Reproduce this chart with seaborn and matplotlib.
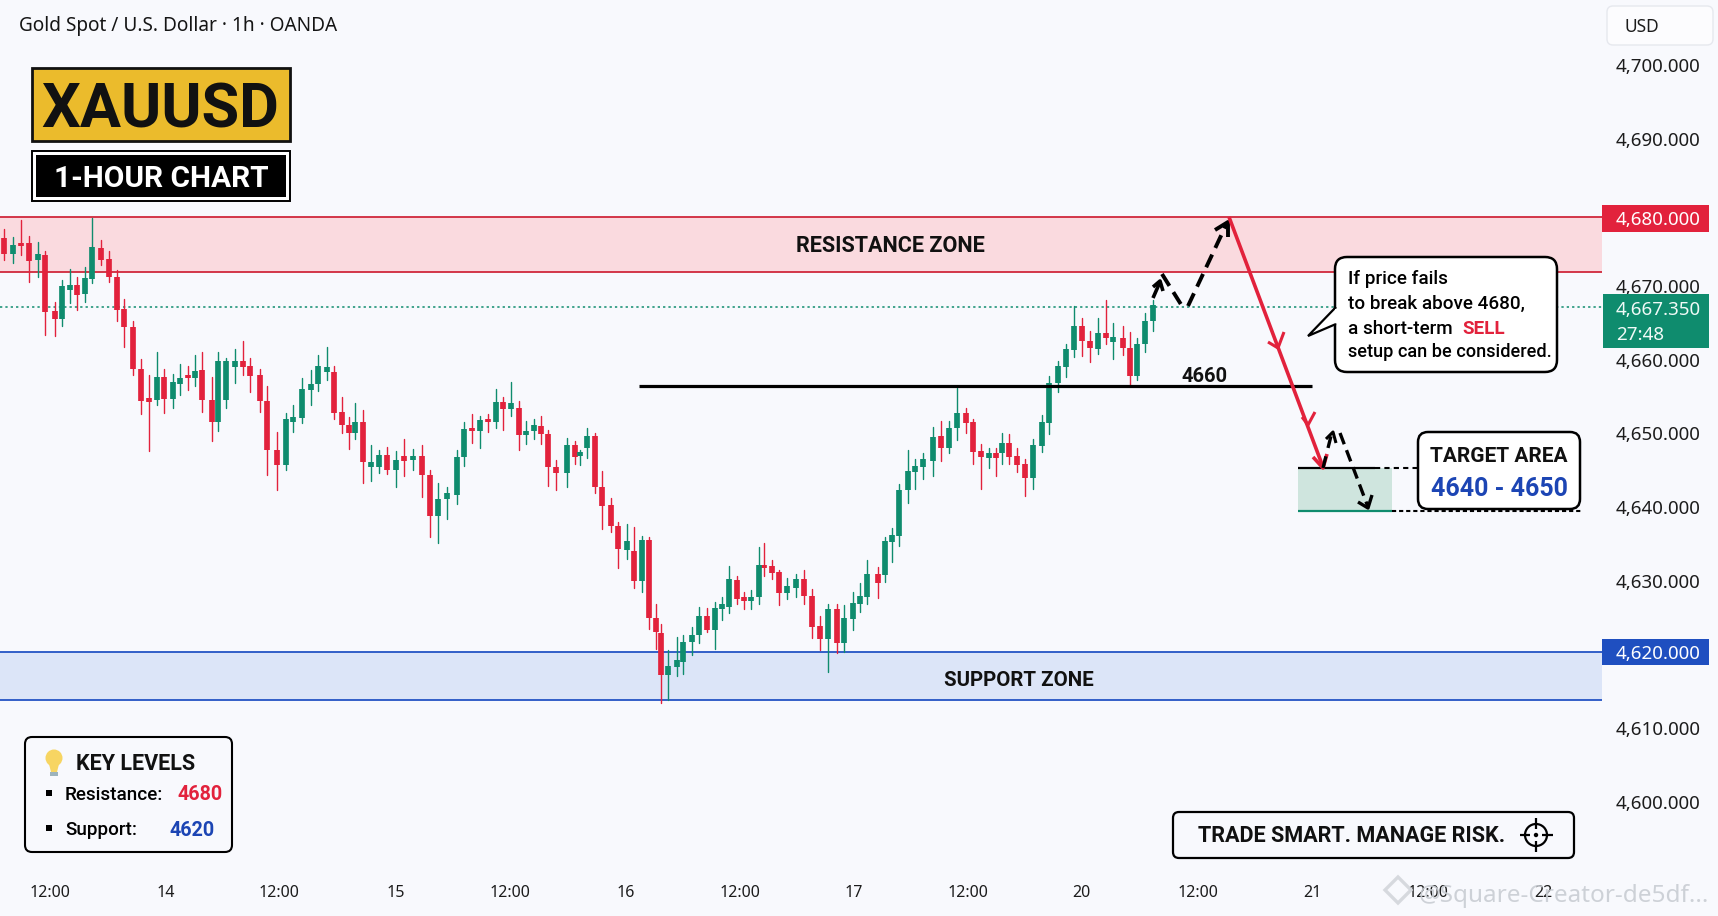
import numpy as np
import pandas as pd
import seaborn as sns
import matplotlib
matplotlib.use('Agg')
import matplotlib.pyplot as plt
from matplotlib.patches import FancyBboxPatch, Rectangle, Polygon, Circle

# time of each 1h bar on the chart axis, hours from left edge
bar_hours = [0.42, 1.36, 2.23, 3.07, 4.01, 4.74, 5.76, 6.46, 7.30, 8.09, 8.87, 9.66, 10.54, 11.38, 12.22,
             13.02, 13.90, 14.80, 15.60, 16.44, 17.20, 18.15, 18.88, 19.65, 20.45, 21.18, 22.17, 22.86, 23.66, 24.64,
             25.41, 26.21, 27.22, 27.99, 28.97, 29.95, 30.71, 31.65, 32.56, 33.33, 34.21, 35.00, 35.84, 36.51, 37.20,
             38.04, 38.88, 39.65, 40.55, 41.43, 42.33, 43.21, 44.19, 45.03, 45.90,
             46.84, 47.88, 48.59, 49.45, 50.26, 51.07, 51.94, 52.70, 53.48, 54.31, 55.08, 55.88, 56.65, 57.41, 58.22,
             59.34, 60.21, 60.73, 61.43, 62.33, 63.07, 64.01, 64.71, 65.62, 66.39, 67.19, 67.99, 68.69, 69.21, 69.95,
             70.86, 71.55, 72.43, 73.16, 74.03, 74.87, 75.60, 76.33, 77.17, 77.94, 78.67, 79.47, 80.03, 80.87, 81.60,
             82.44, 83.35, 84.22, 84.99, 85.89, 86.73, 87.64, 88.41, 89.29, 90.08, 90.82,
             91.90, 92.70, 93.37, 94.13, 95.11, 95.84, 96.68, 97.73, 98.53, 99.40, 100.21, 101.12, 101.91, 102.72,
             103.53, 104.26, 104.89, 105.68, 106.46, 107.30, 108.13, 109.08, 109.87, 110.82, 111.62, 112.46, 113.26,
             114.14, 114.94, 115.81, 116.57, 117.56, 118.32, 119.09, 119.92, 120.70]

body_top = [4676.5, 4675.6, 4675.9, 4675.9, 4674.3, 4674.2, 4666.6, 4670.0, 4670.2, 4670.1, 4671.1, 4675.3, 4675.2, 4673.7, 4671.2,
            4666.9, 4664.5, 4658.8, 4654.8, 4657.7, 4657.7, 4657.0, 4657.5, 4657.9, 4658.5, 4658.6, 4654.6, 4659.9, 4659.8, 4659.9,
            4659.9, 4659.1, 4657.9, 4654.4, 4647.8, 4651.9, 4652.2, 4656.0, 4656.7, 4659.1, 4659.0, 4658.4, 4652.9, 4651.2, 4651.5,
            4651.5, 4646.2, 4647.1, 4647.1, 4646.4, 4647.0, 4647.0, 4646.9, 4644.4, 4641.1,
            4641.9, 4646.8, 4650.6, 4650.8, 4651.8, 4651.9, 4654.3, 4654.3, 4654.2, 4653.4, 4650.3, 4651.1, 4651.0, 4649.9, 4645.5,
            4648.4, 4648.4, 4647.5, 4649.7, 4649.7, 4642.7, 4640.3, 4637.5, 4635.4, 4634.1, 4635.5, 4635.5, 4625.0, 4622.9, 4618.5,
            4619.3, 4621.7, 4622.6, 4625.2, 4625.2, 4626.3, 4626.8, 4630.2, 4630.1, 4627.8, 4627.8, 4632.1, 4632.2, 4632.0, 4631.2,
            4629.3, 4630.2, 4630.2, 4628.0, 4623.9, 4626.2, 4626.2, 4625.0, 4627.0, 4627.9, 4631.0,
            4631.0, 4635.4, 4636.2, 4642.4, 4644.9, 4645.6, 4646.5, 4649.5, 4649.6, 4650.8, 4652.8, 4652.8, 4651.5, 4647.6,
            4647.4, 4647.3, 4648.7, 4648.7, 4646.9, 4645.8, 4648.5, 4651.5, 4656.9, 4659.1, 4661.4, 4664.6, 4664.6,
            4662.6, 4663.7, 4663.7, 4663.1, 4662.9, 4661.6, 4662.2, 4665.2, 4667.4]
body_bottom = [4674.3, 4674.3, 4675.4, 4673.4, 4673.6, 4666.5, 4665.5, 4665.5, 4669.5, 4668.8, 4668.9, 4671.0, 4673.6, 4671.2, 4666.7,
               4664.5, 4658.8, 4654.4, 4654.3, 4654.6, 4654.7, 4654.7, 4656.7, 4657.5, 4657.5, 4654.6, 4651.5, 4651.5, 4654.6, 4659.0,
               4659.0, 4657.8, 4654.4, 4647.7, 4645.7, 4645.7, 4651.6, 4652.1, 4655.9, 4656.7, 4658.4, 4652.8, 4651.1, 4650.1, 4650.1,
               4646.1, 4645.4, 4645.5, 4645.1, 4645.1, 4646.3, 4646.4, 4644.4, 4638.8, 4638.8,
               4641.1, 4641.7, 4646.8, 4650.4, 4650.4, 4651.5, 4651.6, 4653.3, 4653.3, 4649.8, 4649.8, 4650.4, 4649.9, 4645.4, 4644.6,
               4644.7, 4646.8, 4646.9, 4648.1, 4642.7, 4640.1, 4637.4, 4634.3, 4634.2, 4630.0, 4630.0, 4625.0, 4623.0, 4617.2, 4617.2,
               4618.3, 4619.0, 4621.7, 4622.6, 4623.3, 4623.3, 4626.2, 4626.5, 4627.6, 4627.3, 4627.3, 4627.8, 4631.7, 4631.1, 4628.3,
               4628.3, 4629.1, 4628.0, 4623.8, 4622.1, 4622.1, 4621.6, 4621.6, 4624.8, 4626.9, 4627.8,
               4629.7, 4630.8, 4635.3, 4636.1, 4642.3, 4644.8, 4645.5, 4646.3, 4648.1, 4648.1, 4650.8, 4651.4, 4647.5, 4646.8,
               4646.7, 4646.7, 4647.3, 4646.8, 4645.7, 4643.9, 4643.9, 4648.3, 4651.4, 4656.8, 4659.0, 4661.3, 4662.5,
               4661.6, 4661.5, 4662.9, 4662.4, 4661.6, 4657.8, 4657.8, 4662.2, 4665.2]
highs = [4677.8, 4676.6, 4679.0, 4676.8, 4676.0, 4674.8, 4667.9, 4670.8, 4672.3, 4671.2, 4672.6, 4679.2, 4676.2, 4674.8, 4672.2,
         4668.2, 4665.3, 4660.1, 4658.0, 4661.1, 4658.8, 4658.1, 4659.4, 4659.2, 4660.6, 4661.1, 4657.7, 4661.1, 4660.3, 4661.4,
         4662.5, 4660.2, 4658.7, 4656.4, 4650.2, 4652.8, 4653.8, 4657.5, 4658.6, 4660.6, 4661.8, 4659.2, 4654.9, 4652.2, 4654.1,
         4653.2, 4648.5, 4647.8, 4648.2, 4647.6, 4649.2, 4647.9, 4648.5, 4645.1, 4643.3,
         4642.7, 4647.8, 4651.6, 4652.6, 4652.4, 4652.6, 4656.0, 4654.9, 4657.0, 4654.4, 4651.7, 4652.0, 4652.4, 4650.5, 4646.4,
         4649.4, 4649.0, 4647.7, 4650.7, 4650.0, 4644.9, 4641.2, 4638.0, 4637.7, 4637.3, 4636.1, 4636.0, 4626.8, 4624.1, 4620.6,
         4622.4, 4622.7, 4623.8, 4626.4, 4626.3, 4627.1, 4627.8, 4632.0, 4630.6, 4628.5, 4628.8, 4634.6, 4635.2, 4632.8, 4631.5,
         4630.4, 4631.0, 4631.5, 4628.9, 4625.3, 4626.9, 4626.8, 4626.7, 4628.5, 4629.7, 4632.9,
         4631.9, 4635.9, 4637.2, 4643.1, 4647.8, 4646.6, 4647.3, 4650.9, 4651.7, 4651.7, 4656.2, 4653.4, 4652.0, 4648.6,
         4648.0, 4648.0, 4650.1, 4649.9, 4648.1, 4646.5, 4649.3, 4652.5, 4657.8, 4659.9, 4662.2, 4667.3, 4665.7,
         4663.9, 4665.7, 4668.1, 4665.0, 4664.6, 4663.8, 4663.0, 4666.3, 4668.1]
lows = [4673.6, 4673.1, 4674.2, 4670.5, 4671.2, 4663.4, 4663.2, 4664.6, 4667.7, 4666.8, 4667.8, 4670.4, 4672.9, 4670.5, 4665.3,
        4661.8, 4658.0, 4652.7, 4647.6, 4653.8, 4652.8, 4653.4, 4655.2, 4655.9, 4656.4, 4652.9, 4649.0, 4650.3, 4653.4, 4656.9,
        4658.0, 4655.6, 4652.9, 4644.4, 4642.4, 4645.1, 4650.2, 4651.4, 4653.9, 4655.7, 4657.2, 4651.9, 4650.1, 4647.9, 4649.3,
        4643.3, 4643.6, 4644.7, 4644.5, 4642.8, 4644.3, 4645.1, 4641.4, 4636.0, 4635.1,
        4638.4, 4640.5, 4645.6, 4648.7, 4648.0, 4650.2, 4650.8, 4650.5, 4652.4, 4647.7, 4648.6, 4649.2, 4648.6, 4642.9, 4642.3,
        4642.8, 4645.9, 4645.7, 4646.7, 4641.9, 4637.0, 4636.6, 4631.8, 4633.0, 4629.1, 4628.5, 4623.5, 4620.8, 4613.4, 4613.9,
        4617.1, 4617.4, 4619.9, 4621.6, 4623.1, 4620.8, 4624.7, 4625.7, 4626.9, 4626.2, 4626.2, 4626.8, 4630.6, 4630.3, 4626.7,
        4627.5, 4627.8, 4626.9, 4622.3, 4620.6, 4617.7, 4620.2, 4620.3, 4623.4, 4625.8, 4626.9,
        4627.7, 4629.8, 4632.6, 4634.8, 4640.6, 4642.5, 4643.8, 4644.3, 4646.3, 4647.4, 4649.1, 4650.1, 4645.9, 4642.5,
        4645.3, 4644.3, 4645.8, 4645.8, 4644.8, 4641.5, 4642.5, 4647.5, 4649.9, 4655.6, 4657.7, 4660.4, 4660.5,
        4659.7, 4660.8, 4662.2, 4660.1, 4660.6, 4656.4, 4657.2, 4661.1, 4663.9]
# 1 = green candle, 0 = red candle
is_up = [0, 1, 0, 0, 1, 0, 0, 1, 1, 0, 1, 1, 0, 0, 0,
         0, 0, 0, 0, 1, 0, 1, 1, 0, 1, 0, 0, 1, 1, 1,
         0, 0, 0, 0, 0, 1, 1, 1, 1, 1, 1, 0, 0, 0, 1,
         0, 1, 1, 0, 1, 0, 1, 0, 0, 1,
         1, 1, 1, 0, 1, 0, 1, 0, 1, 0, 1, 1, 0, 0, 0,
         1, 0, 1, 1, 0, 0, 0, 0, 1, 0, 1, 0, 0, 0, 1,
         1, 1, 1, 1, 0, 1, 1, 1, 0, 0, 1, 1, 0, 0, 0,
         1, 1, 0, 0, 0, 1, 0, 1, 1, 1, 1,
         0, 1, 1, 1, 1, 1, 1, 1, 0, 1, 1, 0, 0, 0,
         1, 0, 1, 0, 0, 0, 1, 1, 1, 1, 1, 1, 0,
         0, 1, 0, 1, 0, 0, 1, 1, 1]

y_ticks = [4600, 4610, 4620, 4630, 4640, 4650, 4660, 4670, 4680, 4690, 4700]
x_tick_hours = [5.24, 17.33, 29.26, 41.41, 53.35, 65.51, 77.44, 89.38, 101.31, 113.19, 125.40, 137.44, 149.53, 161.57]
x_tick_labels = ['12:00', '14', '12:00', '15', '12:00', '16', '12:00', '17', '12:00', '20', '12:00', '21', '12:00', '22']

resistance_zone = (4671.9, 4679.4)
support_zone = (4613.8, 4620.4)
target_zone = (4639.5, 4645.3)
level_4660 = 4656.4
last_price = 4667.2

RED = '#E2223C'
GREEN = '#0F8C6E'
BLUE = '#1C45B4'
BG = '#F8F9FD'
ROB = ['Roboto', 'DejaVu Sans']
MAIN = ['Noto Sans', 'DejaVu Sans']

sns.set_theme(style='white')
plt.rcParams['font.family'] = MAIN

df = pd.DataFrame({'t': bar_hours, 'top': body_top, 'bottom': body_bottom,
                   'high': highs, 'low': lows, 'up': is_up})
df['bar'] = df.index
df['side'] = np.where(df['up'] == 1, 'up', 'down')
pal = {'up': GREEN, 'down': RED}
wicks = df.melt(id_vars=['bar', 't', 'side'], value_vars=['high', 'low'], value_name='price')
bodies = df.melt(id_vars=['bar', 't', 'side'], value_vars=['top', 'bottom'], value_name='price')

W, H = 1718, 916
fig = plt.figure(figsize=(W / 100, H / 100), dpi=100, facecolor=BG)
ax = fig.add_axes([0, (H - 870) / H, 1602 / W, 870 / H], facecolor=BG)

# zones go under the candles
ax.axhspan(*resistance_zone, color='#FADADF', lw=0, zorder=0)
ax.axhspan(*support_zone, color='#DCE5F8', lw=0, zorder=0)
for v in resistance_zone:
    ax.axhline(v, color='#D0283C', lw=1.3, zorder=1)
for v in support_zone:
    ax.axhline(v, color='#2453C4', lw=1.3, zorder=1)
ax.axhline(last_price, color=GREEN, lw=1.1, ls=(0, (1.5, 2)), zorder=1)

sns.lineplot(data=wicks, x='t', y='price', units='bar', estimator=None, hue='side', palette=pal,
             lw=1.0, sort=False, legend=False, ax=ax, zorder=2)
sns.lineplot(data=bodies, x='t', y='price', units='bar', estimator=None, hue='side', palette=pal,
             lw=4.1, sort=False, legend=False, ax=ax, zorder=3, solid_capstyle='butt')

ax.hlines(level_4660, 66.9, 137.4, color='black', lw=2.3, zorder=4)
ax.add_patch(Rectangle((135.9, target_zone[0]), 9.9, target_zone[1] - target_zone[0],
                       fc='#CFE5DE', ec='none', zorder=1))
ax.hlines(target_zone[1], 135.9, 144.0, color='black', lw=1.6, zorder=4)
ax.hlines(target_zone[0], 135.9, 145.8, color=GREEN, lw=1.6, zorder=4)
ax.hlines(target_zone[1], 144.0, 148.5, color='black', lw=1.5, ls=(0, (2.5, 2)), zorder=4)
ax.hlines(target_zone[0], 145.8, 165.7, color='black', lw=1.5, ls=(0, (2, 1.4)), zorder=4)

ax.set_xlim(0, 167.74)
ax.set_ylim(4600 + (802 - 870) / 7.37, 4600 + 802 / 7.37)
ax.yaxis.tick_right()
ax.set_yticks(y_ticks)
ax.set_yticklabels([f'{v:,.3f}' for v in y_ticks], fontsize=13.5, color='#1c1c1c')
ax.set_xticks(x_tick_hours)
ax.set_xticklabels(x_tick_labels, fontsize=11.5, color='#1c1c1c')
ax.tick_params(axis='y', length=0, pad=10)
ax.tick_params(axis='x', length=0, pad=11)
ax.set_xlabel('')
ax.set_ylabel('')
sns.despine(ax=ax, left=True, bottom=True, right=True, top=True)

# overlay in picture pixels for the hand drawn callouts
ov = fig.add_axes([0, 0, 1, 1], facecolor='none', zorder=5)
ov.set_xlim(0, W)
ov.set_ylim(H, 0)
ov.axis('off')


def box(x0, y0, x1, y1, fc='white', ec='black', lw=1.6, r=8, z=6):
    ov.add_patch(FancyBboxPatch((x0 + r, y0 + r), x1 - x0 - 2 * r, y1 - y0 - 2 * r,
                                boxstyle=f'round,pad={r},rounding_size={r}', fc=fc, ec=ec, lw=lw, zorder=z))


def txt(x, y, s, size, color='black', weight='normal', ha='center', fam=MAIN, z=8):
    return ov.text(x, y, s, fontsize=size, color=color, fontweight=weight, ha=ha, va='center_baseline',
                   family=fam, zorder=z)


def line(pts, color='black', lw=2.4, ls='-', z=7):
    xs, ys = zip(*pts)
    ov.plot(xs, ys, color=color, lw=lw, ls=ls, zorder=z, solid_capstyle='butt', dash_capstyle='butt')


txt(19, 24, 'Gold Spot / U.S. Dollar · 1h · OANDA', 13.7, color='#151515', ha='left')

# usd box
box(1607, 6, 1713, 45, fc='#FCFCFE', ec='#E6E8EE', lw=1, r=6)
txt(1625, 25, 'USD', 12.5, color='#1c1c1c', ha='left')

# price tags
ov.add_patch(Rectangle((1602, 205), 107, 27, fc=RED, ec='none', zorder=6))
txt(1616, 218, '4,680.000', 13.5, color='white', ha='left')
ov.add_patch(Rectangle((1603, 294), 106, 54, fc=GREEN, ec='none', zorder=6))
txt(1616, 308, '4,667.350', 13.5, color='#F0FAF7', ha='left')
txt(1616, 333, '27:48', 13.5, color='#F0FAF7', ha='left')
ov.add_patch(Rectangle((1602, 639), 107, 26, fc='#1F4FC0', ec='none', zorder=6))
txt(1616, 652, '4,620.000', 13.5, color='white', ha='left')

# title boxes
ov.add_patch(Rectangle((32, 68), 258, 73, fc='#EBBB2C', ec='#111111', lw=2, zorder=6))
txt(160, 105, 'XAUUSD', 44, weight='bold', fam=ROB, color='#111111')
ov.add_patch(Rectangle((32, 151), 258, 50, fc='white', ec='black', lw=1.4, zorder=6))
ov.add_patch(Rectangle((36, 155), 250, 42, fc='black', ec='none', zorder=7))
txt(161, 176, '1-HOUR CHART', 21.5, color='white', weight='bold', fam=ROB)

txt(890, 244, 'RESISTANCE ZONE', 15.6, weight='bold', fam=ROB, color='#111111')
txt(1019, 679, 'SUPPORT ZONE', 14.8, weight='bold', fam=ROB, color='#111111')
txt(1205, 374, '4660', 14.5, weight='bold', fam=ROB, color='#111111')

# black dashed path up into resistance
dash = (0, (3.6, 1.9))
line([(1153, 298), (1160, 282)], lw=2.6)
line([(1153, 287), (1160, 281), (1163, 291)], lw=2.6)
line([(1162, 274), (1182, 306)], lw=2.8, ls=dash)
line([(1188, 306), (1227, 223)], lw=2.8, ls=dash)
line([(1215, 230), (1228, 222), (1228, 237)], lw=2.8)

# red drop arrow
line([(1229, 217), (1323, 467)], color=RED, lw=2.6)
line([(1268, 342), (1278, 348), (1284, 332)], color=RED, lw=2.2)
line([(1302, 417), (1308, 425), (1315, 412)], color=RED, lw=2.2)
line([(1313, 457), (1323, 468), (1327, 454)], color=RED, lw=2.6)

# dashed bounce in target area
line([(1323, 468), (1332, 432)], lw=2.4, ls=(0, (3.6, 2.6)))
line([(1326, 439), (1333, 432), (1336, 443)], lw=2.2)
line([(1340, 433), (1368, 507)], lw=2.4, ls=dash)
line([(1358, 502), (1368, 508), (1372, 495)], lw=2.4)

# sell callout
box(1335, 257, 1557, 372, lw=1.8, r=12)
ov.add_patch(Polygon([(1336, 307), (1308, 336), (1336, 324)], fc='white', ec='black', lw=1.6,
                     closed=False, zorder=7))
ov.add_patch(Rectangle((1335, 309), 4, 14, fc='white', ec='none', zorder=7.5))
txt(1348, 277, 'If price fails', 13.6, ha='left', fam=ROB, weight='medium')
txt(1348, 302, 'to break above 4680,', 13.6, ha='left', fam=ROB, weight='medium')
txt(1348, 327, 'a short-term', 13.6, ha='left', fam=ROB, weight='medium')
txt(1462, 327, 'SELL', 13.6, color=RED, ha='left', fam=ROB, weight='bold')
txt(1348, 350, 'setup can be considered.', 13.1, ha='left', fam=ROB, weight='medium')

# target box
box(1418, 432, 1580, 509, lw=1.8, r=10)
txt(1499, 454, 'TARGET AREA', 15, weight='bold', fam=ROB, color='#111111')
txt(1499, 486, '4640 - 4650', 18, color=BLUE, weight='bold', fam=ROB)

# key levels box
box(25, 737, 232, 852, fc=BG, lw=1.5, r=7)
ov.add_patch(Circle((54, 758), 8.5, fc='#F7D562', ec='none', zorder=7))
ov.add_patch(Polygon([(49, 764), (59, 764), (57, 772), (51, 772)], fc='#F7D562', ec='none', zorder=7))
ov.add_patch(Rectangle((50, 772), 8, 4, fc='#9DB3BC', ec='none', zorder=7))
txt(76, 762, 'KEY LEVELS', 15.5, weight='bold', ha='left', fam=ROB, color='#111111')
ov.add_patch(Rectangle((46, 790), 6, 6, fc='black', ec='none', zorder=7))
ov.add_patch(Rectangle((46, 825), 6, 6, fc='black', ec='none', zorder=7))
txt(65, 793, 'Resistance:', 13.6, ha='left', fam=ROB, weight='medium')
txt(177, 793, '4680', 14.2, ha='left', color=RED, fam=ROB, weight='bold')
txt(65, 828, 'Support:', 13.6, ha='left', fam=ROB, weight='medium')
txt(170, 828, '4620', 14.2, ha='left', color=BLUE, fam=ROB, weight='bold')

# footer box
box(1173, 812, 1574, 858, fc=BG, lw=1.6, r=6)
txt(1198, 834, 'TRADE SMART. MANAGE RISK.', 15.6, weight='bold', ha='left', fam=ROB, color='#111111')
ov.add_patch(Circle((1536, 835), 11, fc='none', ec='black', lw=1.6, zorder=7))
ov.add_patch(Circle((1536, 835), 2.2, fc='black', ec='none', zorder=7))
line([(1520, 835), (1530, 835)], lw=1.6)
line([(1542, 835), (1553, 835)], lw=1.6)
line([(1536, 818), (1536, 829)], lw=1.6)
line([(1536, 841), (1536, 852)], lw=1.6)

# watermark
ov.add_patch(Polygon([(1398, 877), (1411, 890), (1398, 903), (1385, 890)], fc='none', ec='#D6D9DE', lw=2.4, zorder=8))
ov.text(1419, 893, '@Square-Creator-de5df...', fontsize=17.5, color='#C9CDD3', ha='left', va='center_baseline',
        family=['Noto Sans', 'DejaVu Sans'], fontweight='light', alpha=0.9, zorder=8)

fig.savefig('out.png', dpi=100, facecolor=BG)
